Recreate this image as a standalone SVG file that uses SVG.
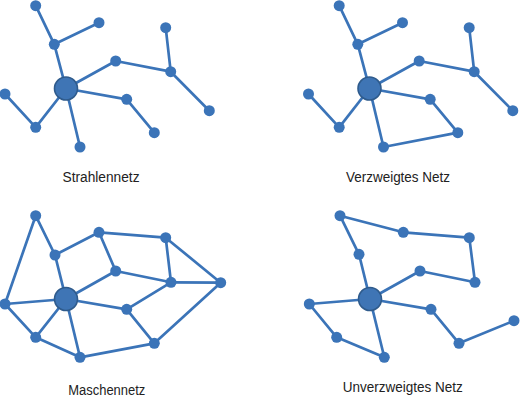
<svg xmlns="http://www.w3.org/2000/svg" width="520" height="401" viewBox="0 0 520 401">
<style>
.e{stroke:#3b74b8;stroke-width:2.7;fill:none;stroke-linecap:round}
.n{fill:#3b74b8}
.c{fill:#3f75b5;stroke:#2f5b8c;stroke-width:1.6}
.t{font-family:"Liberation Sans",Arial,sans-serif;font-size:14px;fill:#222;text-anchor:middle}
</style>
<rect width="520" height="401" fill="#fff"/>
<g id="connectors">
<g id="e-strahl">
<line class="e" x1="35.7" y1="5.7" x2="54.3" y2="44.3"/>
<line class="e" x1="54.3" y1="44.3" x2="99" y2="22.7"/>
<line class="e" x1="54.3" y1="44.3" x2="66" y2="88.5"/>
<line class="e" x1="66" y1="88.5" x2="115.7" y2="61"/>
<line class="e" x1="115.7" y1="61" x2="170.7" y2="71.7"/>
<line class="e" x1="170.7" y1="71.7" x2="165.7" y2="27.7"/>
<line class="e" x1="170.7" y1="71.7" x2="209.3" y2="110.7"/>
<line class="e" x1="66" y1="88.5" x2="126.7" y2="99.3"/>
<line class="e" x1="126.7" y1="99.3" x2="154.3" y2="132.7"/>
<line class="e" x1="66" y1="88.5" x2="80" y2="147"/>
<line class="e" x1="66" y1="88.5" x2="35.7" y2="127.3"/>
<line class="e" x1="35.7" y1="127.3" x2="5" y2="94"/>
</g>
<g id="e-verzweigt" transform="translate(303.5,0)">
<line class="e" x1="35.7" y1="5.7" x2="54.3" y2="44.3"/>
<line class="e" x1="54.3" y1="44.3" x2="99" y2="22.7"/>
<line class="e" x1="54.3" y1="44.3" x2="66" y2="88.5"/>
<line class="e" x1="66" y1="88.5" x2="115.7" y2="61"/>
<line class="e" x1="115.7" y1="61" x2="170.7" y2="71.7"/>
<line class="e" x1="170.7" y1="71.7" x2="165.7" y2="27.7"/>
<line class="e" x1="170.7" y1="71.7" x2="209.3" y2="110.7"/>
<line class="e" x1="66" y1="88.5" x2="126.7" y2="99.3"/>
<line class="e" x1="126.7" y1="99.3" x2="154.3" y2="132.7"/>
<line class="e" x1="66" y1="88.5" x2="80" y2="147"/>
<line class="e" x1="80" y1="147" x2="154.3" y2="132.7"/>
<line class="e" x1="66" y1="88.5" x2="35.7" y2="127.3"/>
<line class="e" x1="35.7" y1="127.3" x2="5" y2="94"/>
</g>
<g id="e-maschen">
<line class="e" x1="35.7" y1="215.7" x2="55" y2="255"/>
<line class="e" x1="35.7" y1="215.7" x2="5" y2="304"/>
<line class="e" x1="55" y1="255" x2="99" y2="232.3"/>
<line class="e" x1="55" y1="255" x2="66" y2="299"/>
<line class="e" x1="99" y1="232.3" x2="165.7" y2="237.7"/>
<line class="e" x1="99" y1="232.3" x2="115.7" y2="271"/>
<line class="e" x1="115.7" y1="271" x2="66" y2="299"/>
<line class="e" x1="115.7" y1="271" x2="171" y2="282.3"/>
<line class="e" x1="165.7" y1="237.7" x2="171" y2="282.3"/>
<line class="e" x1="165.7" y1="237.7" x2="220.7" y2="282.7"/>
<line class="e" x1="171" y1="282.3" x2="220.7" y2="282.7"/>
<line class="e" x1="171" y1="282.3" x2="126.7" y2="309.3"/>
<line class="e" x1="126.7" y1="309.3" x2="66" y2="299"/>
<line class="e" x1="126.7" y1="309.3" x2="154.3" y2="343.3"/>
<line class="e" x1="154.3" y1="343.3" x2="220.7" y2="282.7"/>
<line class="e" x1="154.3" y1="343.3" x2="80" y2="357.3"/>
<line class="e" x1="80" y1="357.3" x2="66" y2="299"/>
<line class="e" x1="80" y1="357.3" x2="35.7" y2="337.3"/>
<line class="e" x1="35.7" y1="337.3" x2="66" y2="299"/>
<line class="e" x1="35.7" y1="337.3" x2="5" y2="304"/>
<line class="e" x1="5" y1="304" x2="66" y2="299"/>
</g>
<g id="e-unverzweigt">
<line class="e" x1="370" y1="299" x2="359" y2="254.3"/>
<line class="e" x1="359" y1="254.3" x2="340" y2="215.7"/>
<line class="e" x1="340" y1="215.7" x2="403.3" y2="232.3"/>
<line class="e" x1="403.3" y1="232.3" x2="469.3" y2="237.7"/>
<line class="e" x1="469.3" y1="237.7" x2="475" y2="282.3"/>
<line class="e" x1="475" y1="282.3" x2="420" y2="271"/>
<line class="e" x1="420" y1="271" x2="370" y2="299"/>
<line class="e" x1="370" y1="299" x2="431" y2="309.3"/>
<line class="e" x1="431" y1="309.3" x2="459" y2="343.3"/>
<line class="e" x1="459" y1="343.3" x2="514" y2="320.7"/>
<line class="e" x1="370" y1="299" x2="309.3" y2="304"/>
<line class="e" x1="309.3" y1="304" x2="336.7" y2="337.3"/>
<line class="e" x1="336.7" y1="337.3" x2="384.3" y2="357.3"/>
<line class="e" x1="384.3" y1="357.3" x2="370" y2="299"/>
</g>
</g>
<g id="strahlennetz">
<g id="s-center"><circle class="c" cx="66" cy="88.5" r="11.5"/></g>
<g id="s-a"><circle class="n" cx="35.7" cy="5.7" r="5.5"/></g>
<g id="s-b"><circle class="n" cx="54.3" cy="44.3" r="5.5"/></g>
<g id="s-c"><circle class="n" cx="99" cy="22.7" r="5.5"/></g>
<g id="s-d"><circle class="n" cx="115.7" cy="61" r="5.5"/></g>
<g id="s-e"><circle class="n" cx="170.7" cy="71.7" r="5.5"/></g>
<g id="s-f"><circle class="n" cx="165.7" cy="27.7" r="5.5"/></g>
<g id="s-g"><circle class="n" cx="209.3" cy="110.7" r="5.5"/></g>
<g id="s-h"><circle class="n" cx="126.7" cy="99.3" r="5.5"/></g>
<g id="s-i"><circle class="n" cx="154.3" cy="132.7" r="5.5"/></g>
<g id="s-j"><circle class="n" cx="80" cy="147" r="5.5"/></g>
<g id="s-k"><circle class="n" cx="35.7" cy="127.3" r="5.5"/></g>
<g id="s-l"><circle class="n" cx="5" cy="94" r="5.5"/></g>
<text class="t" x="101" y="181.5" textLength="77" lengthAdjust="spacingAndGlyphs">Strahlennetz</text>
</g>
<g id="verzweigtes-netz">
<g id="v-center"><circle class="c" cx="369.5" cy="88.5" r="11.5"/></g>
<g id="v-a"><circle class="n" cx="339.2" cy="5.7" r="5.5"/></g>
<g id="v-b"><circle class="n" cx="357.8" cy="44.3" r="5.5"/></g>
<g id="v-c"><circle class="n" cx="402.5" cy="22.7" r="5.5"/></g>
<g id="v-d"><circle class="n" cx="419.2" cy="61" r="5.5"/></g>
<g id="v-e"><circle class="n" cx="474.2" cy="71.7" r="5.5"/></g>
<g id="v-f"><circle class="n" cx="469.2" cy="27.7" r="5.5"/></g>
<g id="v-g"><circle class="n" cx="512.8" cy="110.7" r="5.5"/></g>
<g id="v-h"><circle class="n" cx="430.2" cy="99.3" r="5.5"/></g>
<g id="v-i"><circle class="n" cx="457.8" cy="132.7" r="5.5"/></g>
<g id="v-j"><circle class="n" cx="383.5" cy="147" r="5.5"/></g>
<g id="v-k"><circle class="n" cx="339.2" cy="127.3" r="5.5"/></g>
<g id="v-l"><circle class="n" cx="308.5" cy="94" r="5.5"/></g>
<text class="t" x="398" y="181.5" textLength="104" lengthAdjust="spacingAndGlyphs">Verzweigtes Netz</text>
</g>
<g id="maschennetz">
<g id="m-center"><circle class="c" cx="66" cy="299" r="11.5"/></g>
<g id="m-a"><circle class="n" cx="35.7" cy="215.7" r="5.5"/></g>
<g id="m-b"><circle class="n" cx="55" cy="255" r="5.5"/></g>
<g id="m-c"><circle class="n" cx="99" cy="232.3" r="5.5"/></g>
<g id="m-d"><circle class="n" cx="115.7" cy="271" r="5.5"/></g>
<g id="m-e"><circle class="n" cx="165.7" cy="237.7" r="5.5"/></g>
<g id="m-f"><circle class="n" cx="171" cy="282.3" r="5.5"/></g>
<g id="m-g"><circle class="n" cx="220.7" cy="282.7" r="5.5"/></g>
<g id="m-h"><circle class="n" cx="126.7" cy="309.3" r="5.5"/></g>
<g id="m-i"><circle class="n" cx="154.3" cy="343.3" r="5.5"/></g>
<g id="m-j"><circle class="n" cx="80" cy="357.3" r="5.5"/></g>
<g id="m-k"><circle class="n" cx="35.7" cy="337.3" r="5.5"/></g>
<g id="m-l"><circle class="n" cx="5" cy="304" r="5.5"/></g>
<text class="t" x="106.8" y="394.5" textLength="77" lengthAdjust="spacingAndGlyphs">Maschennetz</text>
</g>
<g id="unverzweigtes-netz">
<g id="u-center"><circle class="c" cx="370" cy="299" r="11.5"/></g>
<g id="u-a"><circle class="n" cx="340" cy="215.7" r="5.5"/></g>
<g id="u-b"><circle class="n" cx="359" cy="254.3" r="5.5"/></g>
<g id="u-c"><circle class="n" cx="403.3" cy="232.3" r="5.5"/></g>
<g id="u-e"><circle class="n" cx="469.3" cy="237.7" r="5.5"/></g>
<g id="u-f"><circle class="n" cx="475" cy="282.3" r="5.5"/></g>
<g id="u-d"><circle class="n" cx="420" cy="271" r="5.5"/></g>
<g id="u-h"><circle class="n" cx="431" cy="309.3" r="5.5"/></g>
<g id="u-i"><circle class="n" cx="459" cy="343.3" r="5.5"/></g>
<g id="u-g"><circle class="n" cx="514" cy="320.7" r="5.5"/></g>
<g id="u-j"><circle class="n" cx="384.3" cy="357.3" r="5.5"/></g>
<g id="u-k"><circle class="n" cx="336.7" cy="337.3" r="5.5"/></g>
<g id="u-l"><circle class="n" cx="309.3" cy="304" r="5.5"/></g>
<text class="t" x="402.7" y="392.3" textLength="120" lengthAdjust="spacingAndGlyphs">Unverzweigtes Netz</text>
</g>
</svg>
